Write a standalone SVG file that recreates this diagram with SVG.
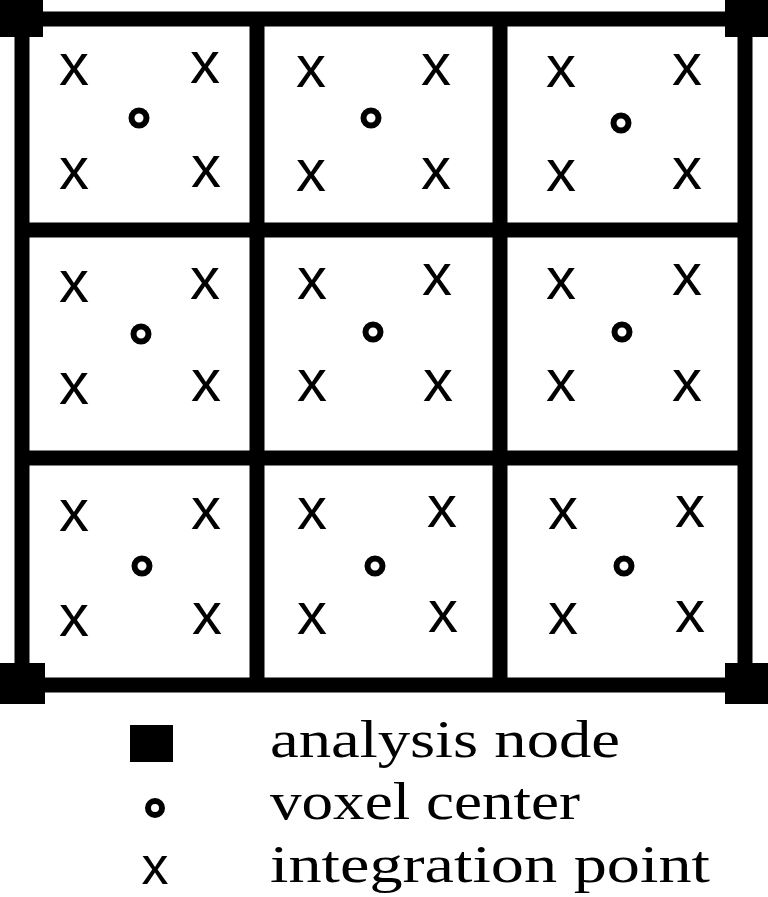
<svg xmlns="http://www.w3.org/2000/svg" width="768" height="897" viewBox="0 0 768 897">
<style>
.ln{stroke:#000;stroke-width:15;fill:none}
.ip{font-family:"Liberation Sans",Arial,sans-serif;font-size:60px;text-anchor:middle;fill:#000}
.vc{fill:none;stroke:#000;stroke-width:6}
.lg{font-family:"Liberation Serif","Times New Roman",serif;font-size:52px;fill:#000}
</style>
<rect width="768" height="897" fill="#fff"/>
<g id="connectors">
<line class="ln" x1="22" y1="19" x2="22" y2="685"/>
<line class="ln" x1="257" y1="19" x2="257" y2="685"/>
<line class="ln" x1="500" y1="19" x2="500" y2="685"/>
<line class="ln" x1="745" y1="19" x2="745" y2="685"/>
<line class="ln" x1="22" y1="19" x2="745" y2="19"/>
<line class="ln" x1="22" y1="230" x2="745" y2="230"/>
<line class="ln" x1="22" y1="458" x2="745" y2="458"/>
<line class="ln" x1="22" y1="685" x2="745" y2="685"/>
</g>
<g id="nodes">
<rect x="0" y="0" width="43" height="37"/>
<rect x="725" y="0" width="43" height="37"/>
<rect x="0" y="663" width="45" height="41"/>
<rect x="725" y="663" width="43" height="41"/>
</g>
<g id="cell1"><text class="ip" x="74" y="85">x</text><text class="ip" x="205" y="83">x</text><text class="ip" x="74" y="189">x</text><text class="ip" x="206" y="187">x</text><circle class="vc" cx="139" cy="118" r="7.5"/></g>
<g id="cell2"><text class="ip" x="311" y="87">x</text><text class="ip" x="436" y="85">x</text><text class="ip" x="311" y="191">x</text><text class="ip" x="436" y="189">x</text><circle class="vc" cx="371" cy="118" r="7.5"/></g>
<g id="cell3"><text class="ip" x="561" y="87">x</text><text class="ip" x="687" y="85">x</text><text class="ip" x="561" y="191">x</text><text class="ip" x="687" y="189">x</text><circle class="vc" cx="621" cy="123" r="7.5"/></g>
<g id="cell4"><text class="ip" x="74" y="302">x</text><text class="ip" x="205" y="299">x</text><text class="ip" x="74" y="404">x</text><text class="ip" x="206" y="401">x</text><circle class="vc" cx="141" cy="334" r="7.5"/></g>
<g id="cell5"><text class="ip" x="312" y="299">x</text><text class="ip" x="437" y="295">x</text><text class="ip" x="312" y="401">x</text><text class="ip" x="438" y="401">x</text><circle class="vc" cx="373" cy="332" r="7.5"/></g>
<g id="cell6"><text class="ip" x="561" y="299">x</text><text class="ip" x="687" y="295">x</text><text class="ip" x="561" y="401">x</text><text class="ip" x="687" y="401">x</text><circle class="vc" cx="622" cy="332" r="7.5"/></g>
<g id="cell7"><text class="ip" x="74" y="531">x</text><text class="ip" x="206" y="529">x</text><text class="ip" x="74" y="636">x</text><text class="ip" x="207" y="634">x</text><circle class="vc" cx="142" cy="566" r="7.5"/></g>
<g id="cell8"><text class="ip" x="312" y="529">x</text><text class="ip" x="442" y="527">x</text><text class="ip" x="312" y="634">x</text><text class="ip" x="443" y="632">x</text><circle class="vc" cx="375" cy="566" r="7.5"/></g>
<g id="cell9"><text class="ip" x="563" y="529">x</text><text class="ip" x="690" y="527">x</text><text class="ip" x="563" y="634">x</text><text class="ip" x="690" y="632">x</text><circle class="vc" cx="624" cy="566" r="7.5"/></g>
<g id="legend">
<rect x="130" y="725" width="43" height="37"/>
<text class="lg" x="270" y="757" textLength="350" lengthAdjust="spacingAndGlyphs">analysis node</text>
<circle class="vc" cx="155" cy="808" r="7"/>
<text class="lg" x="270" y="819" textLength="310" lengthAdjust="spacingAndGlyphs">voxel center</text>
<text class="ip" x="155" y="884" style="font-size:54px">x</text>
<text class="lg" x="270" y="882" textLength="440" lengthAdjust="spacingAndGlyphs">integration point</text>
</g>
</svg>
